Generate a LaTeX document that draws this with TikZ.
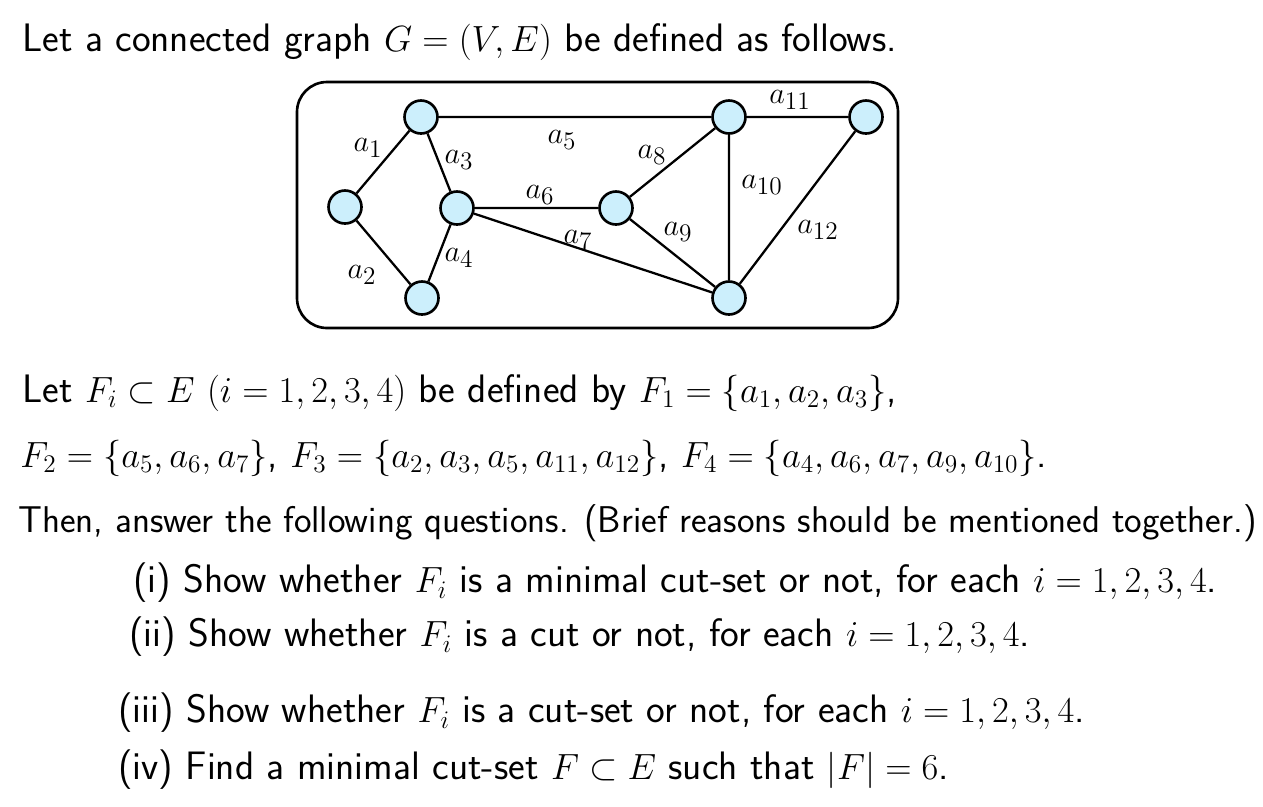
\documentclass[tikz,border=0pt]{standalone}
\begin{document}
\begin{tikzpicture}[x=0.02cm,y=-0.02cm,
  vtx/.style={circle,draw,line width=1.5pt,fill=cyan!20,minimum size=0.66cm,inner sep=0pt},
  edg/.style={line width=1.3pt},
  lab/.style={inner sep=0pt,font=\fontsize{19}{23}\selectfont},
  txt/.style={anchor=west,inner sep=0pt,font=\fontsize{22.6}{27}\selectfont\sffamily}]
\useasboundingbox (0,0) rectangle (1263,806);
\draw[line width=1.5pt,rounded corners=0.6cm] (297,82) rectangle (898,328);
\node[vtx] (A) at (421,117) {};
\node[vtx] (B) at (345,207) {};
\node[vtx] (C) at (422,298) {};
\node[vtx] (D) at (457,208) {};
\node[vtx] (E) at (616,208) {};
\node[vtx] (F) at (729,117) {};
\node[vtx] (G) at (866,117) {};
\node[vtx] (H) at (729,298) {};
\draw[edg] (A)--(B) (B)--(C) (A)--(D) (D)--(C) (A)--(F) (D)--(E) (D)--(H) (E)--(F) (E)--(H) (F)--(H) (F)--(G) (G)--(H);
\node[lab] (l1) at (368,148) {$a_1$};
\node[lab] (l2) at (362,275) {$a_2$};
\node[lab] (l3) at (459,160) {$a_3$};
\node[lab] (l4) at (459,258) {$a_4$};
\node[lab] (l5) at (562,140) {$a_5$};
\node[lab] (l6) at (540,195) {$a_6$};
\node[lab] (l7) at (578,240) {$a_7$};
\node[lab] (l8) at (652,155) {$a_8$};
\node[lab] (l9) at (678,232) {$a_9$};
\node[lab] (l10) at (762,185) {$a_{10}$};
\node[lab] (l11) at (790,100) {$a_{11}$};
\node[lab] (l12) at (818,230) {$a_{12}$};
\node[txt] (t1) at (22,42) {Let a connected graph $G=(V,E)$ be defined as follows.};
\node[txt] (t2) at (22,393) {Let $F_i\subset E\ (i=1,2,3,4)$ be defined by $F_1=\{a_1,a_2,a_3\}$,};
\node[txt] (t3) at (20,458) {$F_2=\{a_5,a_6,a_7\}$, $F_3=\{a_2,a_3,a_5,a_{11},a_{12}\}$,\ $F_4=\{a_4,a_6,a_7,a_9,a_{10}\}$.};
\node[txt,font=\fontsize{21.2}{26}\selectfont\sffamily] (t4) at (18,523) {Then, answer the following questions. (Brief reasons should be mentioned together.)};
\node[txt] (t5) at (133,583) {(i) Show whether $F_i$ is a minimal cut-set or not, for each $i=1,2,3,4$.};
\node[txt] (t6) at (129,637) {(ii) Show whether $F_i$ is a cut or not, for each $i=1,2,3,4$.};
\node[txt] (t7) at (118,713) {(iii) Show whether $F_i$ is a cut-set or not, for each $i=1,2,3,4$.};
\node[txt] (t8) at (118,770) {(iv) Find a minimal cut-set $F\subset E$ such that $|F|=6$.};
\end{tikzpicture}
\end{document}
